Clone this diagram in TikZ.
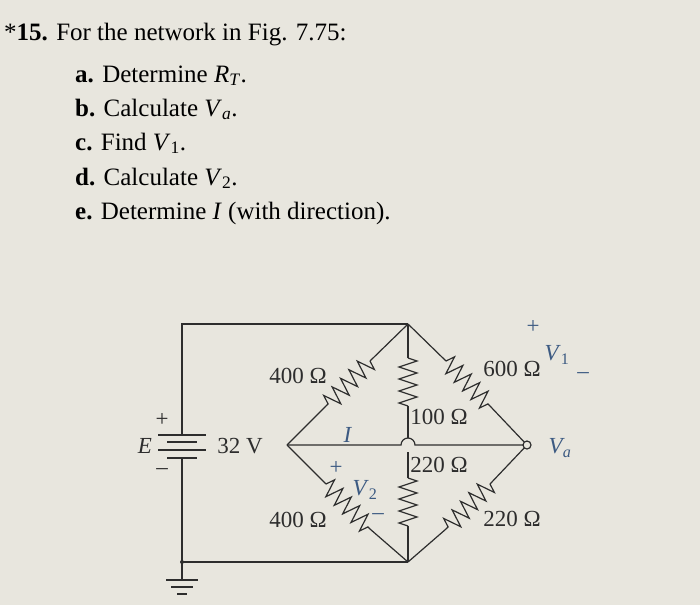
\documentclass[tikz,border=0pt]{standalone}
\usepackage{fontspec}
\setmainfont{Liberation Serif}
\usetikzlibrary{decorations.pathmorphing}
\definecolor{bg}{RGB}{232,230,222}
\definecolor{ink}{RGB}{45,45,45}
\definecolor{lbl}{RGB}{60,90,130}
\newcommand{\vv}[1]{\textit{V}\textsubscript{#1}}
\tikzset{
  res/.style={decorate,decoration={zigzag,segment length=12pt,amplitude=9pt}},
  wire/.style={line width=1.2pt,color=ink},
  hd/.style={font=\fontsize{25}{27}\selectfont,anchor=base west,text=black,inner sep=0},
  cl/.style={font=\fontsize{23}{25}\selectfont,text=ink,inner sep=1pt},
  bl/.style={font=\fontsize{23}{25}\selectfont,text=lbl,inner sep=1pt}
}
\begin{document}
\begin{tikzpicture}[x=1pt,y=-1pt]
\fill[bg] (0,0) rectangle (700,605);
\useasboundingbox (0,0) rectangle (700,605);
% text
\node[hd] (t0) at (4,40) {*\textbf{15.} For the network in Fig. 7.75:};
\node[hd] (ta) at (75,82) {\textbf{a.} Determine \textit{R}\textsubscript{\textit{T}}.};
\node[hd] (tb) at (75,116) {\textbf{b.} Calculate \textit{V}\textsubscript{\textit{a}}.};
\node[hd] (tc) at (75,150) {\textbf{c.} Find \vv{1}.};
\node[hd] (td) at (75,185) {\textbf{d.} Calculate \vv{2}.};
\node[hd] (te) at (75,219) {\textbf{e.} Determine \textit{I} (with direction).};
% nodes
\coordinate (T) at (408,324);
\coordinate (B) at (408,562);
\coordinate (L) at (287,445);
\coordinate (R) at (527,445);
\coordinate (TL) at (182,324);
\coordinate (BL) at (182,562);
% outer wires
\draw[wire] (BL) -- (182,458);
\draw[wire] (182,435) -- (TL) -- (T);
\draw[wire] (BL) -- (B);
\fill[ink] (BL) circle (2pt);
% battery
\draw[wire] (158,435) -- (206,435);
\draw[line width=2.5pt,ink] (167,442) -- (197,442);
\draw[wire] (158,450) -- (206,450);
\draw[line width=2.5pt,ink] (167,458) -- (197,458);
% ground
\draw[wire] (BL) -- (182,580);
\draw[wire] (166,580) -- (198,580);
\draw[wire] (171,587) -- (193,587);
\draw[line width=2pt,ink] (177,594) -- (187,594);
% diagonals with resistors
\draw[wire] (T) -- (370,361); \draw[wire,res] (370,361) -- (326,406); \draw[wire] (326,406) -- (L);
\draw[wire] (T) -- (446,361); \draw[wire,res] (446,361) -- (490,406); \draw[wire] (490,406) -- (R);
\draw[wire] (L) -- (326,484); \draw[wire,res] (326,484) -- (370,529); \draw[wire] (370,529) -- (B);
\draw[wire] (R) -- (490,484); \draw[wire,res] (490,484) -- (446,529); \draw[wire] (446,529) -- (B);
% verticals
\draw[wire] (T) -- (408,358); \draw[wire,res] (408,358) -- (408,406); \draw[wire] (408,406) -- (408,438);
\draw[wire] (408,452) -- (408,478); \draw[wire,res] (408,478) -- (408,526); \draw[wire] (408,526) -- (B);
% horizontal with hop
\draw[wire] (L) -- (401,445) arc (180:360:7) -- (524,445);
\draw[wire,fill=bg] (R) circle (4pt);
% labels
\node[cl] (l1) at (298,376) {400 Ω};
\node[cl] (l2) at (512,369) {600 Ω};
\node[cl] (l3) at (439,417) {100 Ω};
\node[cl] (l4) at (439,465) {220 Ω};
\node[cl] (l5) at (298,520) {400 Ω};
\node[cl] (l6) at (512,519) {220 Ω};
\node[cl] (l7) at (240,446) {32 V};
\node[cl] (e) at (145,446) {\textit{E}};
\node[cl] (ep) at (162,420) {+};
\node[cl] (em) at (162,472) {--};
\node[bl] (va) at (560,448) {\textit{V\textsubscript{a}}};
\node[bl] (v1) at (557,355) {\vv{1}};
\node[bl] (v1p) at (533,327) {+};
\node[bl] (v1m) at (583,376) {--};
\node[bl] (v2) at (365,490) {\vv{2}};
\node[bl] (v2p) at (336,468) {+};
\node[bl] (v2m) at (378,517) {--};
\node[bl] (ii) at (348,435) {\textit{I}};
\end{tikzpicture}
\end{document}
